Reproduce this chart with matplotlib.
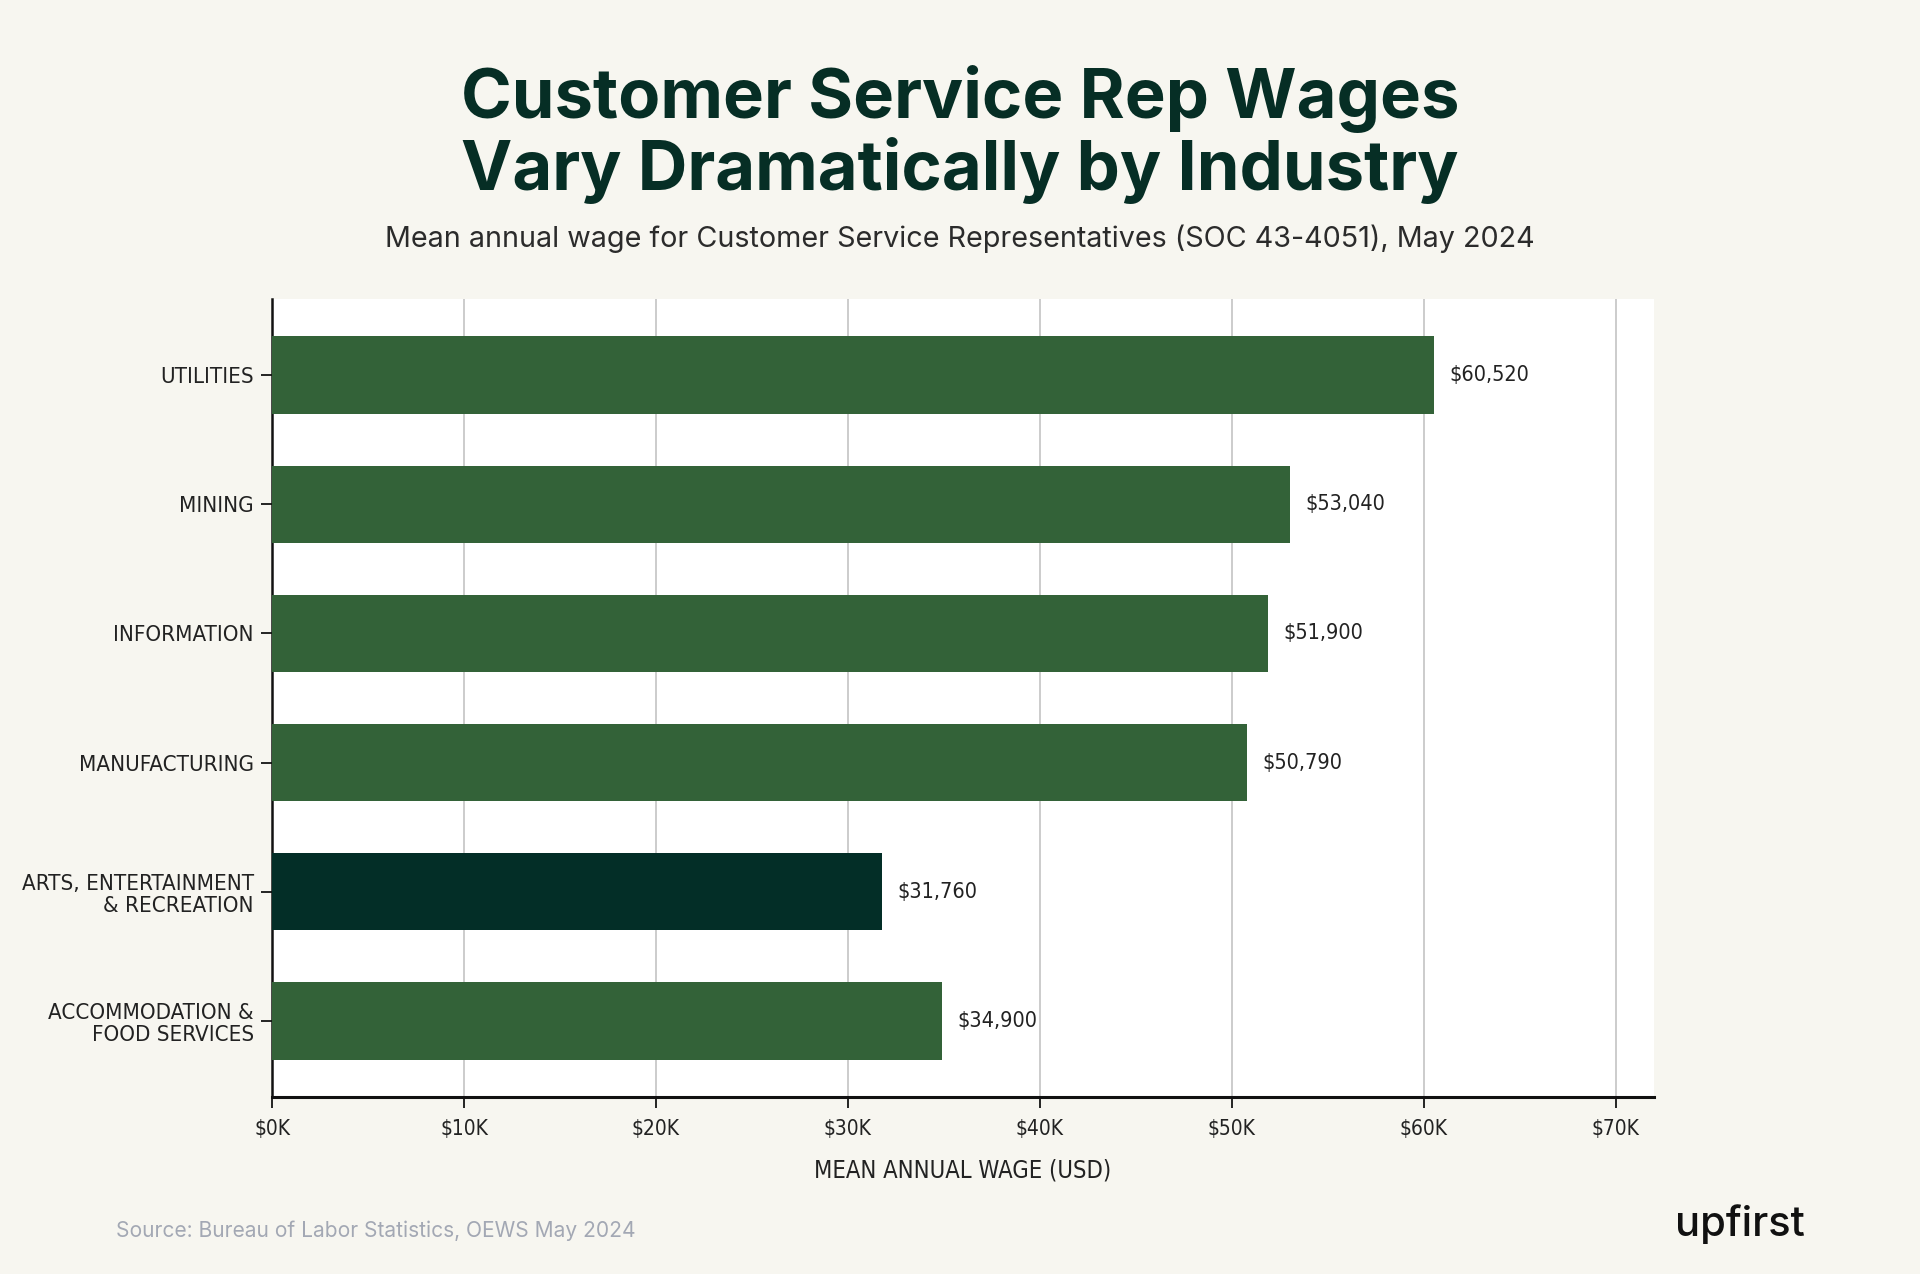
import matplotlib
matplotlib.use("Agg")
import matplotlib.pyplot as plt
from matplotlib.ticker import FuncFormatter, MultipleLocator

industries = ["UTILITIES", "MINING", "INFORMATION", "MANUFACTURING",
              "ARTS, ENTERTAINMENT\n& RECREATION", "ACCOMMODATION &\nFOOD SERVICES"]
wages = [60520, 53040, 51900, 50790, 31760, 34900]
highlight = [False, False, False, False, True, False]

BG = "#F7F6F0"
GREEN = "#336238"
DARK = "#032E27"
TITLE_C = "#062E25"
NARROW = dict(family="DejaVu Sans", stretch="condensed")

fig = plt.figure(figsize=(19.2, 12.74), dpi=100, facecolor=BG)
ax = fig.add_axes([272/1920, 1 - 1097/1274, (1654-272)/1920, (1097-299)/1274])
ax.set_facecolor("white")

ypos = list(range(len(industries)))
colors = [DARK if h else GREEN for h in highlight]
ax.barh(ypos, wages, height=0.6, color=colors, zorder=3)
for y, w in zip(ypos, wages):
    ax.annotate(f"${w:,}", xy=(w, y), xytext=(11, 0), textcoords="offset points",
                va="center", ha="left", fontsize=15.5, color="#222222", **NARROW)

ax.set_ylim(len(industries) - 0.41, -0.59)
ax.set_xlim(0, 72000)
ax.set_yticks(ypos)
ax.set_yticklabels(industries, fontsize=16, color="#222222", linespacing=1.15, **NARROW)
ax.xaxis.set_major_locator(MultipleLocator(10000))
ax.xaxis.set_major_formatter(FuncFormatter(lambda v, p: f"${int(v/1000)}K"))
ax.tick_params(axis="x", labelsize=15, labelcolor="#222222", length=8, width=1.2, pad=8)
for lab in ax.get_xticklabels():
    lab.set_family("DejaVu Sans")
    lab.set_stretch("condensed")
ax.tick_params(axis="y", length=8, width=1.2, pad=5)
ax.grid(axis="x", color="#C4C4C4", linewidth=1.2, zorder=0)
ax.set_axisbelow(True)
for s in ["top", "right"]:
    ax.spines[s].set_visible(False)
ax.spines["left"].set_linewidth(1.8)
ax.spines["bottom"].set_linewidth(2.2)
ax.spines["left"].set_color("#111111")
ax.spines["bottom"].set_color("#111111")
ax.set_xlabel("MEAN ANNUAL WAGE (USD)", fontsize=17, color="#222222", labelpad=14, **NARROW)

fig.text(0.5, 1 - 99/1274, "Customer Service Rep Wages", ha="center", va="center",
         fontsize=49.5, fontweight="bold", family="Inter", color=TITLE_C)
fig.text(0.5, 1 - 171/1274, "Vary Dramatically by Industry", ha="center", va="center",
         fontsize=49.5, fontweight="bold", family="Inter", color=TITLE_C)
fig.text(0.5, 1 - 239/1274, "Mean annual wage for Customer Service Representatives (SOC 43-4051), May 2024",
         ha="center", va="center", fontsize=20.7, family="Inter", color="#2B2B2B")
fig.text(116/1920, 1 - 1231/1274, "Source: Bureau of Labor Statistics, OEWS May 2024",
         ha="left", va="center", fontsize=15.1, family="Inter", color="#A3A8B4")
fig.text(1805/1920, 1 - 1224/1274, "upfirst", ha="right", va="center",
         fontsize=30, family="Inter", fontweight="medium", color="#111111")

fig.savefig("out.png", dpi=100, facecolor=BG)
